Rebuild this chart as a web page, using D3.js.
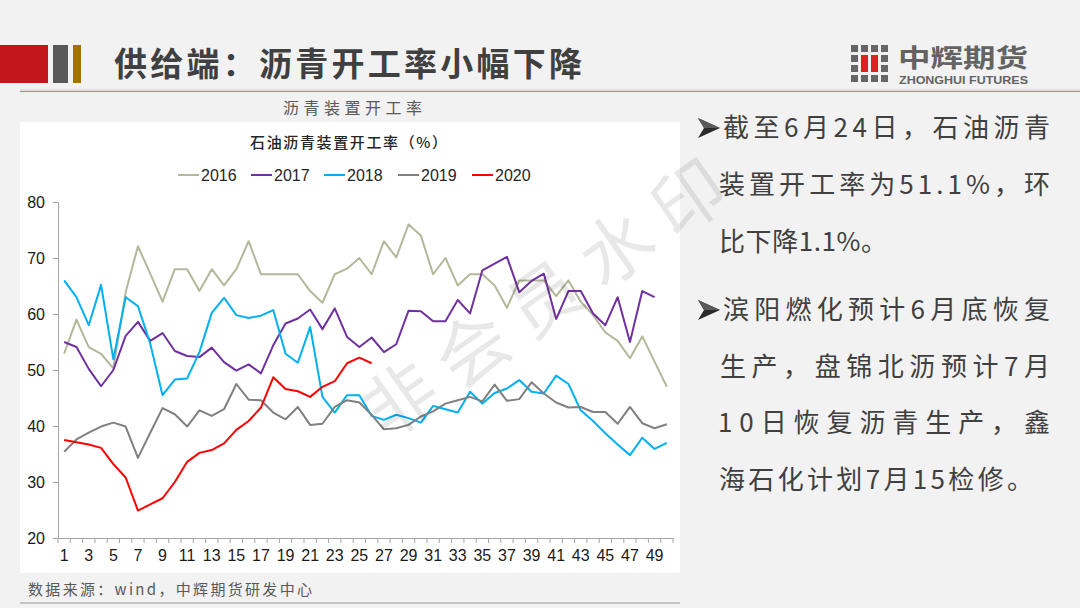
<!DOCTYPE html>
<html><head><meta charset="utf-8">
<script src="https://cdn.jsdelivr.net/npm/d3@7"></script>
<style>
html,body{margin:0;padding:0;background:#f2f2f2;}
svg{display:block;}
</style></head>
<body>
<svg id="c" width="1080" height="608"></svg>
<script>
// ---------- data ----------
const weeks = [1,2,3,4,5,6,7,8,9,10,11,12,13,14,15,16,17,18,19,20,21,22,23,24,25,26,27,28,29,30,31,32,33,34,35,36,37,38,39,40,41,42,43,44,45,46,47,48,49,50];
const xTickLabels = [1,3,5,7,9,11,13,15,17,19,21,23,25,27,29,31,33,35,37,39,41,43,45,47,49];
const yTicks = [20,30,40,50,60,70,80];
const seriesNames = ["2016","2017","2018","2019","2020"];
const s2016 = [52.9,59.0,54.1,52.9,50.3,63.9,72.1,67.2,62.2,68.0,68.0,64.1,68.0,65.1,68.0,73.0,67.1,67.1,67.1,67.1,64.1,62.0,67.1,68.1,70.0,67.1,73.0,70.1,76.0,74.0,67.1,70.0,65.1,67.1,67.1,65.1,61.1,66.0,66.0,66.0,63.2,66.0,62.2,59.8,56.7,55.2,52.1,56.0,51.5,47.0];
const s2017 = [55.0,54.1,50.2,47.1,50.0,56.1,58.6,55.2,56.6,53.4,52.5,52.3,54.0,51.4,49.9,51.0,49.4,54.4,58.3,59.2,60.8,57.3,61.0,55.9,54.1,55.8,53.2,54.6,60.6,60.5,58.7,58.7,62.5,60.1,67.8,69.0,70.2,63.9,65.9,67.2,59.1,64.1,64.1,60.1,58.0,63.0,55.0,64.1,63.0];
const s2018 = [66.0,63.0,58.0,65.2,51.9,63.0,61.4,54.7,45.5,48.3,48.5,53.2,60.2,62.9,59.8,59.3,59.7,60.7,52.9,51.3,57.7,45.2,42.4,45.5,45.5,41.8,41.1,42.0,41.4,40.6,43.6,43.0,42.4,46.1,44.0,45.9,46.7,48.2,46.1,45.8,49.0,47.5,42.8,40.9,38.7,36.7,34.8,37.9,35.9,37.0];
const s2019 = [35.4,37.6,38.8,39.9,40.6,39.9,34.3,38.8,43.2,42.1,39.9,42.8,41.8,43.0,47.5,44.7,44.6,42.4,41.2,43.4,40.2,40.4,43.4,44.6,44.2,42.0,39.4,39.6,40.2,41.7,42.6,44.0,44.6,45.2,44.4,47.4,44.5,44.8,47.8,45.8,44.2,43.3,43.4,42.5,42.5,40.4,43.4,40.5,39.6,40.3];
const s2020 = [37.5,37.1,36.7,36.1,33.2,30.8,24.9,26.0,27.1,30.0,33.6,35.2,35.7,36.9,39.3,40.9,43.3,48.7,46.6,46.2,45.2,47.0,48.0,51.2,52.2,51.2];
const seriesColors = ["#b4b79a","#7030a0","#00b0f0","#808080","#ff0000"];

const pageTitle = "供给端：沥青开工率小幅下降";
const panelTitle = "沥青装置开工率";
const chartTitle = "石油沥青装置开工率（%）";
const sourceText = "数据来源：wind，中辉期货研发中心";
const bullets = [
  ["截至6月24日，石油沥青","装置开工率为51.1%，环","比下降1.1%。"],
  ["滨阳燃化预计6月底恢复","生产，盘锦北沥预计7月","10日恢复沥青生产，鑫","海石化计划7月15检修。"]
];

// ---------- drawing ----------
const svg = d3.select("#c");
const CJK = "'Noto Sans CJK SC','Noto Sans',sans-serif";
const NUM = "'Liberation Sans',Arial,sans-serif";

svg.append("rect").attr("width",1080).attr("height",608).attr("fill","#f2f2f2");

// header blocks
svg.append("rect").attr("x",0).attr("y",45).attr("width",48).attr("height",38).attr("fill","#c0161c");
svg.append("rect").attr("x",53).attr("y",45).attr("width",15).attr("height",38).attr("fill","#595959");
svg.append("rect").attr("x",73).attr("y",45).attr("width",8).attr("height",38).attr("fill","#a47000");
svg.append("text").attr("x",114).attr("y",76).attr("textLength",468).attr("lengthAdjust","spacing")
  .attr("font-family",CJK).attr("font-size",33).attr("font-weight",700).attr("fill","#404040").text(pageTitle);
svg.append("line").attr("x1",20).attr("x2",1080).attr("y1",90).attr("y2",90).attr("stroke","#cfcfcf").attr("stroke-width",1);
svg.append("line").attr("x1",20).attr("x2",1080).attr("y1",91.5).attr("y2",91.5).attr("stroke","#d77a7a").attr("stroke-width",1.2);

// logo
const logo = svg.append("g");
for (let r=0;r<4;r++) for (let c=0;c<4;c++){
  const inner = (r===1||r===2)&&(c===1||c===2);
  if(!inner) logo.append("rect").attr("x",851+c*10).attr("y",45+r*10).attr("width",7).attr("height",7).attr("fill","#666");
}
logo.append("rect").attr("x",861).attr("y",55).attr("width",7).attr("height",17).attr("fill","#e02020");
logo.append("rect").attr("x",871).attr("y",55).attr("width",7).attr("height",17).attr("fill","#e02020");
logo.append("text").attr("x",898).attr("y",67).attr("textLength",130).attr("lengthAdjust","spacingAndGlyphs")
  .attr("font-family",CJK).attr("font-size",25).attr("font-weight",700).attr("fill","#636363").text("中辉期货");
logo.append("text").attr("x",899).attr("y",84).attr("textLength",129).attr("lengthAdjust","spacingAndGlyphs")
  .attr("font-family",NUM).attr("font-size",11).attr("font-weight",700).attr("fill","#636363").text("ZHONGHUI FUTURES");

// panel
svg.append("text").attr("x",283).attr("y",114).attr("textLength",139).attr("lengthAdjust","spacing")
  .attr("font-family",CJK).attr("font-size",16).attr("fill","#595959").text(panelTitle);
svg.append("rect").attr("x",20).attr("y",122).attr("width",660).attr("height",451).attr("fill","#ffffff");

svg.append("text").attr("x",250).attr("y",148).attr("textLength",197).attr("lengthAdjust","spacing")
  .attr("font-family",CJK).attr("font-size",15).attr("font-weight",500).attr("fill","#262626").text(chartTitle);

// legend
const legX = [178,251,324,398,472];
const leg = svg.append("g");
seriesNames.forEach((n,i)=>{
  leg.append("line").attr("x1",legX[i]).attr("x2",legX[i]+21).attr("y1",175).attr("y2",175)
    .attr("stroke",seriesColors[i]).attr("stroke-width",2);
  leg.append("text").attr("x",legX[i]+23).attr("y",181).attr("font-family",NUM).attr("font-size",16)
    .attr("fill","#262626").text(n);
});

// scales
const x = d3.scaleBand().domain(weeks).range([58,673]).padding(0);
const y = d3.scaleLinear().domain([20,80]).range([538,202]);
const cx = d => x(d) + x.bandwidth()/2;

// y axis
const yAx = svg.append("g").attr("transform","translate(58,0)")
  .call(d3.axisLeft(y).tickValues(yTicks).tickSize(5).tickPadding(8).tickFormat(d3.format("d")));
yAx.selectAll("path,line").attr("stroke","#a6a6a6");
yAx.selectAll("text").attr("font-family",NUM).attr("font-size",16).attr("fill","#1a1a1a");

// x axis
const xAx = svg.append("g").attr("transform","translate(0,538)")
  .call(d3.axisBottom(x).tickValues(xTickLabels).tickSize(0).tickPadding(12).tickSizeOuter(0));
xAx.select("path").attr("stroke","#a6a6a6");
xAx.selectAll("text").attr("font-family",NUM).attr("font-size",16).attr("fill","#1a1a1a");
xAx.selectAll(".btick").data(weeks.concat(["end"])).enter().append("line")
  .attr("x1",d=> d==="end" ? x.range()[1] : x(d)).attr("x2",d=> d==="end" ? x.range()[1] : x(d))
  .attr("y1",0).attr("y2",5).attr("stroke","#a6a6a6");

// lines
const allSeries = [s2016,s2017,s2018,s2019,s2020];
const lineGen = d3.line().x((d,i)=>cx(weeks[i])).y(d=>y(d));
allSeries.forEach((s,i)=>{
  svg.append("path").datum(s).attr("d",lineGen).attr("fill","none")
    .attr("stroke",seriesColors[i]).attr("stroke-width",2).attr("stroke-linejoin","round");
});

// footer
svg.append("text").attr("x",28).attr("y",595).attr("textLength",284).attr("lengthAdjust","spacing")
  .attr("font-family",CJK).attr("font-size",15).attr("fill","#595959").text(sourceText);
svg.append("line").attr("x1",20).attr("x2",680).attr("y1",603).attr("y2",603).attr("stroke","#c4c4c4").attr("stroke-width",2);

// bullets
const lineSpec = [
  {x:723,y:128,end:1050,arrow:true},{x:719,y:185,end:1050},{x:719,y:242,end:887},
  {x:723,y:310,end:1050,arrow:true},{x:720,y:367,end:1050},{x:718,y:423,end:1050},{x:719,y:480,end:1033}
];
const flat = bullets.flat();
flat.forEach((t,i)=>{
  const L = lineSpec[i];
  if (L.arrow) {
    const ay = L.y;
    svg.append("path").attr("d",`M698,${ay-10} L720,${ay} L698,${ay+10} L704,${ay} Z`).attr("fill","#2b2b2b");
    svg.append("path").attr("d",`M698,${ay-10} L720,${ay} L704,${ay} Z`).attr("fill","#5a5a5a");
  }
  svg.append("text").attr("x",L.x).attr("y",L.y+9).attr("textLength",L.end-L.x).attr("lengthAdjust","spacing")
    .attr("font-family",CJK).attr("font-size",26).attr("fill","#404040").text(t);
});

// watermark
svg.append("text").attr("transform","translate(548,290) rotate(-35)").attr("text-anchor","middle")
  .attr("dominant-baseline","central").attr("font-family",CJK).attr("font-size",72).attr("letter-spacing",16)
  .attr("fill","rgba(0,0,0,0.09)").text("非会员水印");
</script>
</body></html>
